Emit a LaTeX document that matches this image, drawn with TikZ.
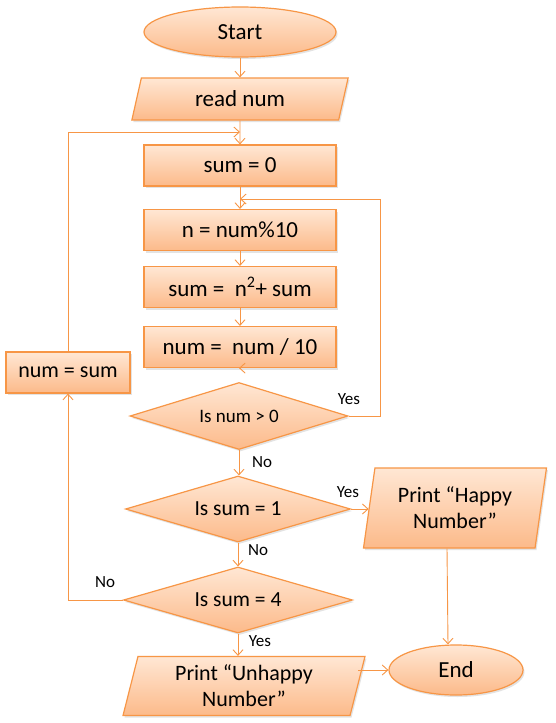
\documentclass[tikz,border=0pt]{standalone}
\usepackage{fontspec}
\setmainfont{Carlito}
\usetikzlibrary{arrows.meta, positioning, shapes.geometric, shadows}
\definecolor{fcorange}{RGB}{247, 150, 70}
\definecolor{fctop}{RGB}{255, 231, 212}
\definecolor{fcbottom}{RGB}{252, 186, 138}

\begin{document}
\begin{tikzpicture}[x=1pt, y=-1pt,
  every node/.style={font=\fontsize{23}{27}\selectfont, inner sep=0pt},
  fcshape/.style={draw=fcorange, line width=1.2pt, top color=fctop, bottom color=fcbottom,
    drop shadow={opacity=0.22, shadow xshift=1.5pt, shadow yshift=-2pt}},
  terminal/.style={fcshape, ellipse},
  process/.style={fcshape, rectangle, minimum width=192, minimum height=41},
  io/.style={fcshape, trapezium, trapezium stretches=true, align=center},
  decision/.style={fcshape, diamond, aspect=3.3},
  lbl/.style={font=\fontsize{17}{19}\selectfont},
  flow/.style={fcorange, line width=0.9pt, -{Straight Barb[length=5.5pt, width=10pt]}}]

  \path[use as bounding box, fill=white] (0,0) rectangle (556,723);

  % Main column
  \node[terminal, minimum width=192, minimum height=50] (start) at (240,32) {Start};
  \node[io, trapezium left angle=75, trapezium right angle=105,
    minimum width=217, minimum height=42] (read) at (240,99) {read num};
  \node[process] (zero) at (240,165.5) {sum = 0};
  \node[process] (mod) at (240,230) {n = num\%10};
  \node[process] (sq) at (240,287) {sum = \ n\textsuperscript{2}+ sum};
  \node[process] (div) at (240,347) {num = \ num / 10};
  \node[decision, minimum width=218, minimum height=67,
    font=\fontsize{19}{22}\selectfont] (dnum) at (239,416) {Is num > 0};
  \node[decision, minimum width=225, minimum height=66,
    font=\fontsize{21.5}{25}\selectfont] (d1) at (238,509) {Is sum = 1};
  \node[decision, minimum width=229, minimum height=66,
    font=\fontsize{21.5}{25}\selectfont] (d2) at (238,600) {Is sum = 4};
  \node[io, trapezium left angle=77, trapezium right angle=103,
    minimum width=242, minimum height=59,
    font=\fontsize{22}{26}\selectfont] (unhappy) at (244,686) {Print “Unhappy\\Number”};

  % Side nodes
  \node[process, minimum width=124, font=\fontsize{22}{26}\selectfont] (numsum) at (68,372.5) {num = sum};
  \node[io, trapezium left angle=79, trapezium right angle=101,
    minimum width=183, minimum height=80,
    font=\fontsize{22}{26}\selectfont] (happy) at (455,508) {Print “Happy\\Number”};
  \node[terminal, minimum width=134, minimum height=50] (endn) at (456,670) {End};

  % Joints of the loops
  \coordinate (jtop) at (240,132);
  \coordinate (jloop) at (240,199);

  % Branch labels
  \node[lbl] (yes1) at (349,399) {Yes};
  \node[lbl] (no1) at (262,462) {No};
  \node[lbl] (yes2) at (348,492) {Yes};
  \node[lbl] (no2) at (258,550) {No};
  \node[lbl] (no3) at (105,582) {No};
  \node[lbl] (yes3) at (260,641) {Yes};

  % Connectors
  \draw[flow] (start) -- (read);
  \draw[flow] (read) -- (zero);
  \draw[flow] (numsum.north) |- (jtop);
  \draw[flow] (zero) -- (mod);
  \draw[flow] (dnum.east) -- ++(32,0) |- (jloop);
  \draw[flow] (mod) -- (sq);
  \draw[flow] (sq) -- (div);
  \draw[flow] (div.south) -- (div.south -| dnum.north);
  \draw[flow] (dnum.south) -- (dnum.south |- d1.north);
  \draw[flow] (d1.east) -- (d1.east -| happy.west);
  \draw[flow] (d1.south) -- (d2.north);
  \draw[flow] (d2.west) -| (numsum.south);
  \draw[flow] (d2.south) -- (d2.south |- unhappy.north);
  \draw[flow] (endn.west -| unhappy.east) -- (endn.west);
  \draw[flow] ([xshift=-8pt]happy.south) -- ([xshift=-8pt]endn.north);
\end{tikzpicture}
\end{document}
